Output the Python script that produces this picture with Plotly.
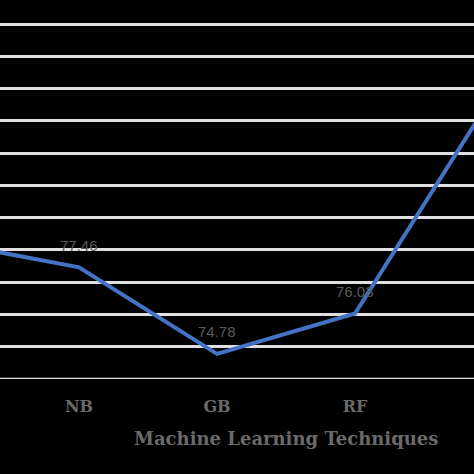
import plotly.graph_objects as go

categories = ["LR", "NB", "GB", "RF", "SVM"]
accuracy = [78.27, 77.46, 74.78, 76.03, 82.80]
x_title = "Machine Learning Techniques"

xi = list(range(len(categories)))

fig = go.Figure()
fig.add_trace(go.Scatter(
    x=xi, y=accuracy, mode="lines",
    line=dict(color="#4472C4", width=4),
    hoverinfo="skip", showlegend=False,
))

for x, v in zip(xi, accuracy):
    fig.add_annotation(x=x, y=v, text=f"{v:.2f}", showarrow=False,
                       yshift=22, xref="x", yref="y",
                       font=dict(family="Liberation Sans", size=15, color="#5a5a5a"))

fig.add_annotation(x=285.5 / 474, y=-(438 - 379) / 379, xref="paper", yref="paper",
                   text=f"<b>{x_title}</b>", showarrow=False, yanchor="middle", xanchor="center",
                   font=dict(family="DejaVu Serif", size=18, color="#6a6a6a"))

fig.update_layout(
    width=474, height=474,
    margin=dict(l=0, r=0, t=0, b=95),
    paper_bgcolor="black", plot_bgcolor="black",
    xaxis=dict(range=[0.4275, 3.862], tickmode="array", tickvals=xi,
               ticktext=[f"<b>{c}</b>" for c in categories],
               showgrid=False, zeroline=False, showline=False,
               ticks="outside", ticklen=13, tickcolor="rgba(0,0,0,0)",
               tickfont=dict(family="DejaVu Serif", size=16, color="#6a6a6a")),
    yaxis=dict(range=[74, 85.744], dtick=1, showgrid=True, gridcolor="#e0e0e0", gridwidth=2.5,
               showticklabels=False, zeroline=False, showline=False, ticks=""),
    shapes=[dict(type="line", xref="paper", yref="y", x0=0, x1=1, y0=74, y1=74,
                 line=dict(color="#e0e0e0", width=2.5))],
)

fig.write_html("out.html", config={"displayModeBar": False},
               post_script="document.body.style.margin='0';document.body.style.background='black';")
